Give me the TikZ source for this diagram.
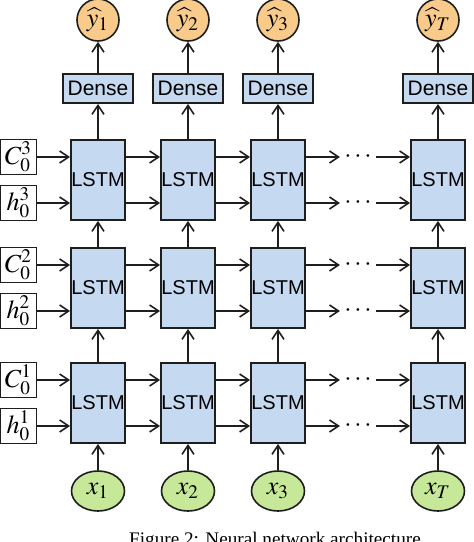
\documentclass[tikz,border=0pt]{standalone}
\usepackage{mathptmx}
\usepackage{fontspec}
\setmainfont{Liberation Serif}
\setsansfont{Liberation Sans}
\usetikzlibrary{positioning,arrows.meta,shapes.geometric,calc}
\definecolor{cellblue}{RGB}{197,217,241}
\definecolor{outorange}{RGB}{249,203,139}
\definecolor{ingreen}{RGB}{198,232,152}
\definecolor{linegray}{RGB}{30,30,30}
\tikzset{arr/.style={draw=linegray,line width=0.8pt,-{Straight Barb[length=4.5pt,width=6pt]}}}

\begin{document}
\begin{tikzpicture}[x=0.5pt,y=-0.5pt,
	lstm/.style={draw=linegray,fill=cellblue,line width=0.9pt,
		minimum width=27pt,minimum height=40pt,inner sep=0pt,
		font=\sffamily\fontsize{10}{12}\selectfont},
	dense/.style={draw=linegray,fill=cellblue,line width=0.9pt,
		minimum width=35pt,minimum height=14.5pt,inner sep=0pt,
		font=\sffamily\fontsize{10.5}{12}\selectfont},
	outc/.style={circle,draw=linegray,fill=outorange,line width=0.8pt,
		minimum size=21pt,inner sep=0pt,font=\fontsize{13}{14}\selectfont},
	inx/.style={ellipse,draw=linegray,fill=ingreen,line width=0.8pt,
		minimum width=26.5pt,minimum height=20pt,inner sep=0pt,
		font=\fontsize{13}{14}\selectfont},
	init/.style={draw=linegray,fill=white,line width=0.8pt,
		minimum width=18pt,minimum height=17.5pt,inner sep=0pt,
		font=\fontsize{13}{14}\selectfont},
	dots/.style={inner xsep=2pt,inner ysep=0pt,font=\fontsize{13}{14}\selectfont},
	]
	\useasboundingbox (0,0) rectangle (474,542);
	% columns: LSTM stack, Dense layer, output and input
	\foreach \c/\x/\t in {1/98/1,2/188/2,3/278/3,4/438/T}{
		\node[inx] (x-\c) at (\x,491) {$x_{\t}$};
		\node[lstm] (l-1-\c) at (\x,403) {LSTM};
		\node[lstm] (l-2-\c) at (\x,288) {LSTM};
		\node[lstm] (l-3-\c) at (\x,180) {LSTM};
		\node[dense] (d-\c) at (\x,88.5) {Dense};
		\node[outc] (y-\c) at (\x,20) {$\widehat{y}_{\t}$};
		\draw[arr] (x-\c) -- (l-1-\c);
		\draw[arr] (l-1-\c) -- (l-2-\c);
		\draw[arr] (l-2-\c) -- (l-3-\c);
		\draw[arr] (l-3-\c) -- (d-\c);
		\draw[arr] (d-\c) -- (y-\c);
	}
	% rows: initial states and recurrent connections
	\foreach \r/\y in {1/403,2/288,3/180}{
		\node[init] (c-\r) at (18.5,\y-23) {$C_0^{\r}$};
		\node[init] (h-\r) at (18.5,\y+23) {$h_0^{\r}$};
		\foreach \s/\dy in {c/-23,h/23}{
			\draw[arr] (\s-\r) -- (\s-\r -| l-\r-1.west);
			\draw[arr] (l-\r-1.east |- \s-\r) -- (l-\r-2.west |- \s-\r);
			\draw[arr] (l-\r-2.east |- \s-\r) -- (l-\r-3.west |- \s-\r);
			\node[dots] (k-\s-\r) at (358,\y+\dy) {$\cdots$};
			\draw[arr] (l-\r-3.east |- \s-\r) -- (k-\s-\r);
			\draw[arr] (k-\s-\r) -- (l-\r-4.west |- \s-\r);
		}
	}
	\node[anchor=base,font=\rmfamily\fontsize{9.6}{11}\selectfont] (cap) at (275,545)
		{Figure 2: Neural network architecture};
\end{tikzpicture}
\end{document}
